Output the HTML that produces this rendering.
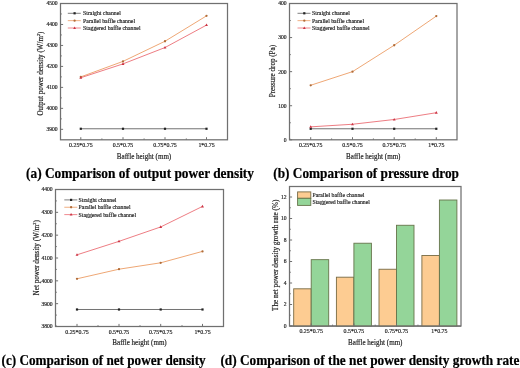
<!DOCTYPE html>
<html><head><meta charset="utf-8"><title>Figure</title>
<style>html,body{margin:0;padding:0;background:#fff}svg{display:block}text{font-family:'Liberation Serif', serif}</style></head><body>
<svg width="520" height="368" viewBox="0 0 520 368">
<rect width="520" height="368" fill="#fff"/>
<rect x="60.5" y="3.5" width="167.0" height="136.3" fill="none" stroke="#707070" stroke-width="1.25"/>
<line x1="60.50" y1="129.32" x2="63.10" y2="129.32" stroke="#707070" stroke-width="1" />
<text x="57.60" y="131.22" font-size="5.6" text-anchor="end" font-weight="normal" fill="#222" stroke="#222" stroke-width="0.17" >3900</text>
<line x1="60.50" y1="118.83" x2="61.90" y2="118.83" stroke="#707070" stroke-width="0.9" />
<line x1="60.50" y1="108.35" x2="63.10" y2="108.35" stroke="#707070" stroke-width="1" />
<text x="57.60" y="110.25" font-size="5.6" text-anchor="end" font-weight="normal" fill="#222" stroke="#222" stroke-width="0.17" >4000</text>
<line x1="60.50" y1="97.86" x2="61.90" y2="97.86" stroke="#707070" stroke-width="0.9" />
<line x1="60.50" y1="87.38" x2="63.10" y2="87.38" stroke="#707070" stroke-width="1" />
<text x="57.60" y="89.28" font-size="5.6" text-anchor="end" font-weight="normal" fill="#222" stroke="#222" stroke-width="0.17" >4100</text>
<line x1="60.50" y1="76.89" x2="61.90" y2="76.89" stroke="#707070" stroke-width="0.9" />
<line x1="60.50" y1="66.41" x2="63.10" y2="66.41" stroke="#707070" stroke-width="1" />
<text x="57.60" y="68.31" font-size="5.6" text-anchor="end" font-weight="normal" fill="#222" stroke="#222" stroke-width="0.17" >4200</text>
<line x1="60.50" y1="55.92" x2="61.90" y2="55.92" stroke="#707070" stroke-width="0.9" />
<line x1="60.50" y1="45.44" x2="63.10" y2="45.44" stroke="#707070" stroke-width="1" />
<text x="57.60" y="47.34" font-size="5.6" text-anchor="end" font-weight="normal" fill="#222" stroke="#222" stroke-width="0.17" >4300</text>
<line x1="60.50" y1="34.95" x2="61.90" y2="34.95" stroke="#707070" stroke-width="0.9" />
<line x1="60.50" y1="24.47" x2="63.10" y2="24.47" stroke="#707070" stroke-width="1" />
<text x="57.60" y="26.37" font-size="5.6" text-anchor="end" font-weight="normal" fill="#222" stroke="#222" stroke-width="0.17" >4400</text>
<line x1="60.50" y1="13.98" x2="61.90" y2="13.98" stroke="#707070" stroke-width="0.9" />
<line x1="60.50" y1="3.50" x2="63.10" y2="3.50" stroke="#707070" stroke-width="1" />
<text x="57.60" y="5.40" font-size="5.6" text-anchor="end" font-weight="normal" fill="#222" stroke="#222" stroke-width="0.17" >4500</text>
<line x1="80.80" y1="139.80" x2="80.80" y2="137.20" stroke="#707070" stroke-width="1" />
<text x="80.80" y="147.20" font-size="5.9" text-anchor="middle" font-weight="normal" fill="#222" stroke="#222" stroke-width="0.17" >0.25*0.75</text>
<line x1="123.00" y1="139.80" x2="123.00" y2="137.20" stroke="#707070" stroke-width="1" />
<text x="123.00" y="147.20" font-size="5.9" text-anchor="middle" font-weight="normal" fill="#222" stroke="#222" stroke-width="0.17" >0.5*0.75</text>
<line x1="165.00" y1="139.80" x2="165.00" y2="137.20" stroke="#707070" stroke-width="1" />
<text x="165.00" y="147.20" font-size="5.9" text-anchor="middle" font-weight="normal" fill="#222" stroke="#222" stroke-width="0.17" >0.75*0.75</text>
<line x1="206.50" y1="139.80" x2="206.50" y2="137.20" stroke="#707070" stroke-width="1" />
<text x="206.50" y="147.20" font-size="5.9" text-anchor="middle" font-weight="normal" fill="#222" stroke="#222" stroke-width="0.17" >1*0.75</text>
<line x1="101.90" y1="139.80" x2="101.90" y2="138.40" stroke="#707070" stroke-width="0.9" />
<line x1="144.10" y1="139.80" x2="144.10" y2="138.40" stroke="#707070" stroke-width="0.9" />
<line x1="186.30" y1="139.80" x2="186.30" y2="138.40" stroke="#707070" stroke-width="0.9" />
<text transform="translate(144.00,158.80) scale(0.944,1)" font-size="7.5" text-anchor="middle" font-weight="normal" fill="#222" stroke="#222" stroke-width="0.17" >Baffle height (mm)</text>
<text transform="translate(42.80,73.60) rotate(-90) scale(0.944,1)" font-size="7.5" text-anchor="middle" fill="#222" stroke="#222" stroke-width="0.17">Output power density (W/m<tspan dy="-2.5" font-size="4.5">2</tspan><tspan dy="2.5">)</tspan></text>
<polyline points="80.80,128.77 123.00,128.77 165.00,128.77 206.50,128.77" fill="none" stroke="#3a3a3a" stroke-width="0.72"/>
<rect x="79.70" y="127.67" width="2.2" height="2.2" fill="#222"/>
<rect x="121.90" y="127.67" width="2.2" height="2.2" fill="#222"/>
<rect x="163.90" y="127.67" width="2.2" height="2.2" fill="#222"/>
<rect x="205.40" y="127.67" width="2.2" height="2.2" fill="#222"/>
<polyline points="80.80,76.89 123.00,61.38 165.00,41.24 206.50,15.87" fill="none" stroke="#e8843f" stroke-width="0.72"/>
<circle cx="80.80" cy="76.89" r="1.15" fill="#b06c38"/>
<circle cx="123.00" cy="61.38" r="1.15" fill="#b06c38"/>
<circle cx="165.00" cy="41.24" r="1.15" fill="#b06c38"/>
<circle cx="206.50" cy="15.87" r="1.15" fill="#b06c38"/>
<polyline points="80.80,77.73 123.00,63.89 165.00,47.54 206.50,25.10" fill="none" stroke="#e64a52" stroke-width="0.72"/>
<polygon points="80.80,76.13 79.35,78.73 82.25,78.73" fill="#cc3444"/>
<polygon points="123.00,62.29 121.55,64.89 124.45,64.89" fill="#cc3444"/>
<polygon points="165.00,45.94 163.55,48.54 166.45,48.54" fill="#cc3444"/>
<polygon points="206.50,23.50 205.05,26.10 207.95,26.10" fill="#cc3444"/>
<line x1="67.80" y1="13.30" x2="80.80" y2="13.30" stroke="#3a3a3a" stroke-width="0.65" />
<rect x="73.50" y="12.20" width="2.2" height="2.2" fill="#222"/>
<text transform="translate(83.10,15.30) scale(0.951,1)" font-size="6.1" text-anchor="start" font-weight="normal" fill="#222" stroke="#222" stroke-width="0.17" >Straight channel</text>
<line x1="67.80" y1="20.65" x2="80.80" y2="20.65" stroke="#e8843f" stroke-width="0.65" />
<circle cx="74.60" cy="20.65" r="1.15" fill="#b06c38"/>
<text transform="translate(83.10,22.65) scale(0.951,1)" font-size="6.1" text-anchor="start" font-weight="normal" fill="#222" stroke="#222" stroke-width="0.17" >Parallel baffle channel</text>
<line x1="67.80" y1="28.00" x2="80.80" y2="28.00" stroke="#e64a52" stroke-width="0.65" />
<polygon points="74.60,26.40 73.15,29.00 76.05,29.00" fill="#cc3444"/>
<text transform="translate(83.10,30.00) scale(0.951,1)" font-size="6.1" text-anchor="start" font-weight="normal" fill="#222" stroke="#222" stroke-width="0.17" >Staggered baffle channel</text>
<rect x="289.5" y="3.5" width="167.5" height="136.3" fill="none" stroke="#707070" stroke-width="1.25"/>
<line x1="289.50" y1="139.80" x2="292.10" y2="139.80" stroke="#707070" stroke-width="1" />
<text x="286.60" y="141.70" font-size="5.6" text-anchor="end" font-weight="normal" fill="#222" stroke="#222" stroke-width="0.17" >0</text>
<line x1="289.50" y1="122.76" x2="290.90" y2="122.76" stroke="#707070" stroke-width="0.9" />
<line x1="289.50" y1="105.73" x2="292.10" y2="105.73" stroke="#707070" stroke-width="1" />
<text x="286.60" y="107.63" font-size="5.6" text-anchor="end" font-weight="normal" fill="#222" stroke="#222" stroke-width="0.17" >100</text>
<line x1="289.50" y1="88.69" x2="290.90" y2="88.69" stroke="#707070" stroke-width="0.9" />
<line x1="289.50" y1="71.65" x2="292.10" y2="71.65" stroke="#707070" stroke-width="1" />
<text x="286.60" y="73.55" font-size="5.6" text-anchor="end" font-weight="normal" fill="#222" stroke="#222" stroke-width="0.17" >200</text>
<line x1="289.50" y1="54.61" x2="290.90" y2="54.61" stroke="#707070" stroke-width="0.9" />
<line x1="289.50" y1="37.57" x2="292.10" y2="37.57" stroke="#707070" stroke-width="1" />
<text x="286.60" y="39.47" font-size="5.6" text-anchor="end" font-weight="normal" fill="#222" stroke="#222" stroke-width="0.17" >300</text>
<line x1="289.50" y1="20.54" x2="290.90" y2="20.54" stroke="#707070" stroke-width="0.9" />
<line x1="289.50" y1="3.50" x2="292.10" y2="3.50" stroke="#707070" stroke-width="1" />
<text x="286.60" y="5.40" font-size="5.6" text-anchor="end" font-weight="normal" fill="#222" stroke="#222" stroke-width="0.17" >400</text>
<line x1="310.70" y1="139.80" x2="310.70" y2="137.20" stroke="#707070" stroke-width="1" />
<text x="310.70" y="147.20" font-size="5.9" text-anchor="middle" font-weight="normal" fill="#222" stroke="#222" stroke-width="0.17" >0.25*0.75</text>
<line x1="352.50" y1="139.80" x2="352.50" y2="137.20" stroke="#707070" stroke-width="1" />
<text x="352.50" y="147.20" font-size="5.9" text-anchor="middle" font-weight="normal" fill="#222" stroke="#222" stroke-width="0.17" >0.5*0.75</text>
<line x1="394.20" y1="139.80" x2="394.20" y2="137.20" stroke="#707070" stroke-width="1" />
<text x="394.20" y="147.20" font-size="5.9" text-anchor="middle" font-weight="normal" fill="#222" stroke="#222" stroke-width="0.17" >0.75*0.75</text>
<line x1="436.30" y1="139.80" x2="436.30" y2="137.20" stroke="#707070" stroke-width="1" />
<text x="436.30" y="147.20" font-size="5.9" text-anchor="middle" font-weight="normal" fill="#222" stroke="#222" stroke-width="0.17" >1*0.75</text>
<line x1="289.80" y1="139.80" x2="289.80" y2="138.40" stroke="#707070" stroke-width="0.9" />
<line x1="331.60" y1="139.80" x2="331.60" y2="138.40" stroke="#707070" stroke-width="0.9" />
<line x1="373.40" y1="139.80" x2="373.40" y2="138.40" stroke="#707070" stroke-width="0.9" />
<line x1="415.20" y1="139.80" x2="415.20" y2="138.40" stroke="#707070" stroke-width="0.9" />
<text transform="translate(373.25,158.80) scale(0.944,1)" font-size="7.5" text-anchor="middle" font-weight="normal" fill="#222" stroke="#222" stroke-width="0.17" >Baffle height (mm)</text>
<text transform="translate(275.30,71.10) rotate(-90) scale(0.944,1)" font-size="7.5" text-anchor="middle" fill="#222" stroke="#222" stroke-width="0.17">Pressure drop (Pa)</text>
<polyline points="310.70,128.78 352.50,128.78 394.20,128.78 436.30,128.78" fill="none" stroke="#3a3a3a" stroke-width="0.72"/>
<rect x="309.60" y="127.68" width="2.2" height="2.2" fill="#222"/>
<rect x="351.40" y="127.68" width="2.2" height="2.2" fill="#222"/>
<rect x="393.10" y="127.68" width="2.2" height="2.2" fill="#222"/>
<rect x="435.20" y="127.68" width="2.2" height="2.2" fill="#222"/>
<polyline points="310.70,85.28 352.50,71.65 394.20,45.24 436.30,16.11" fill="none" stroke="#e8843f" stroke-width="0.72"/>
<circle cx="310.70" cy="85.28" r="1.15" fill="#b06c38"/>
<circle cx="352.50" cy="71.65" r="1.15" fill="#b06c38"/>
<circle cx="394.20" cy="45.24" r="1.15" fill="#b06c38"/>
<circle cx="436.30" cy="16.11" r="1.15" fill="#b06c38"/>
<polyline points="310.70,126.85 352.50,124.26 394.20,119.49 436.30,112.71" fill="none" stroke="#e64a52" stroke-width="0.72"/>
<polygon points="310.70,125.25 309.25,127.85 312.15,127.85" fill="#cc3444"/>
<polygon points="352.50,122.66 351.05,125.26 353.95,125.26" fill="#cc3444"/>
<polygon points="394.20,117.89 392.75,120.49 395.65,120.49" fill="#cc3444"/>
<polygon points="436.30,111.11 434.85,113.71 437.75,113.71" fill="#cc3444"/>
<line x1="297.50" y1="13.30" x2="310.50" y2="13.30" stroke="#3a3a3a" stroke-width="0.65" />
<rect x="303.20" y="12.20" width="2.2" height="2.2" fill="#222"/>
<text transform="translate(312.10,15.30) scale(0.951,1)" font-size="6.1" text-anchor="start" font-weight="normal" fill="#222" stroke="#222" stroke-width="0.17" >Straight channel</text>
<line x1="297.50" y1="20.65" x2="310.50" y2="20.65" stroke="#e8843f" stroke-width="0.65" />
<circle cx="304.30" cy="20.65" r="1.15" fill="#b06c38"/>
<text transform="translate(312.10,22.65) scale(0.951,1)" font-size="6.1" text-anchor="start" font-weight="normal" fill="#222" stroke="#222" stroke-width="0.17" >Parallel baffle channel</text>
<line x1="297.50" y1="28.00" x2="310.50" y2="28.00" stroke="#e64a52" stroke-width="0.65" />
<polygon points="304.30,26.40 302.85,29.00 305.75,29.00" fill="#cc3444"/>
<text transform="translate(312.10,30.00) scale(0.951,1)" font-size="6.1" text-anchor="start" font-weight="normal" fill="#222" stroke="#222" stroke-width="0.17" >Staggered baffle channel</text>
<rect x="55.5" y="189.5" width="168.0" height="137.0" fill="none" stroke="#707070" stroke-width="1.25"/>
<line x1="55.50" y1="326.50" x2="58.10" y2="326.50" stroke="#707070" stroke-width="1" />
<text x="52.60" y="328.40" font-size="5.6" text-anchor="end" font-weight="normal" fill="#222" stroke="#222" stroke-width="0.17" >3800</text>
<line x1="55.50" y1="315.08" x2="56.90" y2="315.08" stroke="#707070" stroke-width="0.9" />
<line x1="55.50" y1="303.67" x2="58.10" y2="303.67" stroke="#707070" stroke-width="1" />
<text x="52.60" y="305.57" font-size="5.6" text-anchor="end" font-weight="normal" fill="#222" stroke="#222" stroke-width="0.17" >3900</text>
<line x1="55.50" y1="292.25" x2="56.90" y2="292.25" stroke="#707070" stroke-width="0.9" />
<line x1="55.50" y1="280.83" x2="58.10" y2="280.83" stroke="#707070" stroke-width="1" />
<text x="52.60" y="282.73" font-size="5.6" text-anchor="end" font-weight="normal" fill="#222" stroke="#222" stroke-width="0.17" >4000</text>
<line x1="55.50" y1="269.42" x2="56.90" y2="269.42" stroke="#707070" stroke-width="0.9" />
<line x1="55.50" y1="258.00" x2="58.10" y2="258.00" stroke="#707070" stroke-width="1" />
<text x="52.60" y="259.90" font-size="5.6" text-anchor="end" font-weight="normal" fill="#222" stroke="#222" stroke-width="0.17" >4100</text>
<line x1="55.50" y1="246.58" x2="56.90" y2="246.58" stroke="#707070" stroke-width="0.9" />
<line x1="55.50" y1="235.17" x2="58.10" y2="235.17" stroke="#707070" stroke-width="1" />
<text x="52.60" y="237.07" font-size="5.6" text-anchor="end" font-weight="normal" fill="#222" stroke="#222" stroke-width="0.17" >4200</text>
<line x1="55.50" y1="223.75" x2="56.90" y2="223.75" stroke="#707070" stroke-width="0.9" />
<line x1="55.50" y1="212.33" x2="58.10" y2="212.33" stroke="#707070" stroke-width="1" />
<text x="52.60" y="214.23" font-size="5.6" text-anchor="end" font-weight="normal" fill="#222" stroke="#222" stroke-width="0.17" >4300</text>
<line x1="55.50" y1="200.92" x2="56.90" y2="200.92" stroke="#707070" stroke-width="0.9" />
<line x1="55.50" y1="189.50" x2="58.10" y2="189.50" stroke="#707070" stroke-width="1" />
<text x="52.60" y="191.40" font-size="5.6" text-anchor="end" font-weight="normal" fill="#222" stroke="#222" stroke-width="0.17" >4400</text>
<line x1="77.00" y1="326.50" x2="77.00" y2="323.90" stroke="#707070" stroke-width="1" />
<text x="77.00" y="333.50" font-size="5.9" text-anchor="middle" font-weight="normal" fill="#222" stroke="#222" stroke-width="0.17" >0.25*0.75</text>
<line x1="119.00" y1="326.50" x2="119.00" y2="323.90" stroke="#707070" stroke-width="1" />
<text x="119.00" y="333.50" font-size="5.9" text-anchor="middle" font-weight="normal" fill="#222" stroke="#222" stroke-width="0.17" >0.5*0.75</text>
<line x1="160.70" y1="326.50" x2="160.70" y2="323.90" stroke="#707070" stroke-width="1" />
<text x="160.70" y="333.50" font-size="5.9" text-anchor="middle" font-weight="normal" fill="#222" stroke="#222" stroke-width="0.17" >0.75*0.75</text>
<line x1="202.50" y1="326.50" x2="202.50" y2="323.90" stroke="#707070" stroke-width="1" />
<text x="202.50" y="333.50" font-size="5.9" text-anchor="middle" font-weight="normal" fill="#222" stroke="#222" stroke-width="0.17" >1*0.75</text>
<line x1="56.00" y1="326.50" x2="56.00" y2="325.10" stroke="#707070" stroke-width="0.9" />
<line x1="98.00" y1="326.50" x2="98.00" y2="325.10" stroke="#707070" stroke-width="0.9" />
<line x1="140.00" y1="326.50" x2="140.00" y2="325.10" stroke="#707070" stroke-width="0.9" />
<line x1="182.00" y1="326.50" x2="182.00" y2="325.10" stroke="#707070" stroke-width="0.9" />
<text transform="translate(139.50,344.50) scale(0.944,1)" font-size="7.5" text-anchor="middle" font-weight="normal" fill="#222" stroke="#222" stroke-width="0.17" >Baffle height (mm)</text>
<text transform="translate(38.80,257.80) rotate(-90) scale(0.935,1)" font-size="7.65" text-anchor="middle" fill="#222" stroke="#222" stroke-width="0.17">Net power density (W/m<tspan dy="-2.5" font-size="4.5">2</tspan><tspan dy="2.5">)</tspan></text>
<polyline points="77.00,309.49 119.00,309.49 160.70,309.49 202.50,309.49" fill="none" stroke="#3a3a3a" stroke-width="0.72"/>
<rect x="75.90" y="308.39" width="2.2" height="2.2" fill="#222"/>
<rect x="117.90" y="308.39" width="2.2" height="2.2" fill="#222"/>
<rect x="159.60" y="308.39" width="2.2" height="2.2" fill="#222"/>
<rect x="201.40" y="308.39" width="2.2" height="2.2" fill="#222"/>
<polyline points="77.00,278.78 119.00,269.19 160.70,262.80 202.50,251.38" fill="none" stroke="#e8843f" stroke-width="0.72"/>
<circle cx="77.00" cy="278.78" r="1.15" fill="#b06c38"/>
<circle cx="119.00" cy="269.19" r="1.15" fill="#b06c38"/>
<circle cx="160.70" cy="262.80" r="1.15" fill="#b06c38"/>
<circle cx="202.50" cy="251.38" r="1.15" fill="#b06c38"/>
<polyline points="77.00,254.80 119.00,241.33 160.70,226.95 202.50,206.40" fill="none" stroke="#e64a52" stroke-width="0.72"/>
<polygon points="77.00,253.20 75.55,255.80 78.45,255.80" fill="#cc3444"/>
<polygon points="119.00,239.73 117.55,242.33 120.45,242.33" fill="#cc3444"/>
<polygon points="160.70,225.35 159.25,227.95 162.15,227.95" fill="#cc3444"/>
<polygon points="202.50,204.80 201.05,207.40 203.95,207.40" fill="#cc3444"/>
<line x1="64.30" y1="199.90" x2="77.30" y2="199.90" stroke="#3a3a3a" stroke-width="0.65" />
<rect x="70.00" y="198.80" width="2.2" height="2.2" fill="#222"/>
<text transform="translate(78.60,201.90) scale(0.951,1)" font-size="6.1" text-anchor="start" font-weight="normal" fill="#222" stroke="#222" stroke-width="0.17" >Straight channel</text>
<line x1="64.30" y1="207.25" x2="77.30" y2="207.25" stroke="#e8843f" stroke-width="0.65" />
<circle cx="71.10" cy="207.25" r="1.15" fill="#b06c38"/>
<text transform="translate(78.60,209.25) scale(0.951,1)" font-size="6.1" text-anchor="start" font-weight="normal" fill="#222" stroke="#222" stroke-width="0.17" >Parallel baffle channel</text>
<line x1="64.30" y1="214.60" x2="77.30" y2="214.60" stroke="#e64a52" stroke-width="0.65" />
<polygon points="71.10,213.00 69.65,215.60 72.55,215.60" fill="#cc3444"/>
<text transform="translate(78.60,216.60) scale(0.951,1)" font-size="6.1" text-anchor="start" font-weight="normal" fill="#222" stroke="#222" stroke-width="0.17" >Staggered baffle channel</text>
<rect x="289.5" y="186.5" width="171.5" height="139.5" fill="none" stroke="#707070" stroke-width="1.25"/>
<line x1="289.50" y1="326.00" x2="292.10" y2="326.00" stroke="#707070" stroke-width="1" />
<text x="286.60" y="327.90" font-size="5.6" text-anchor="end" font-weight="normal" fill="#222" stroke="#222" stroke-width="0.17" >0</text>
<line x1="289.50" y1="315.25" x2="290.90" y2="315.25" stroke="#707070" stroke-width="0.9" />
<line x1="289.50" y1="304.50" x2="292.10" y2="304.50" stroke="#707070" stroke-width="1" />
<text x="286.60" y="306.40" font-size="5.6" text-anchor="end" font-weight="normal" fill="#222" stroke="#222" stroke-width="0.17" >2</text>
<line x1="289.50" y1="293.75" x2="290.90" y2="293.75" stroke="#707070" stroke-width="0.9" />
<line x1="289.50" y1="283.00" x2="292.10" y2="283.00" stroke="#707070" stroke-width="1" />
<text x="286.60" y="284.90" font-size="5.6" text-anchor="end" font-weight="normal" fill="#222" stroke="#222" stroke-width="0.17" >4</text>
<line x1="289.50" y1="272.25" x2="290.90" y2="272.25" stroke="#707070" stroke-width="0.9" />
<line x1="289.50" y1="261.50" x2="292.10" y2="261.50" stroke="#707070" stroke-width="1" />
<text x="286.60" y="263.40" font-size="5.6" text-anchor="end" font-weight="normal" fill="#222" stroke="#222" stroke-width="0.17" >6</text>
<line x1="289.50" y1="250.75" x2="290.90" y2="250.75" stroke="#707070" stroke-width="0.9" />
<line x1="289.50" y1="240.00" x2="292.10" y2="240.00" stroke="#707070" stroke-width="1" />
<text x="286.60" y="241.90" font-size="5.6" text-anchor="end" font-weight="normal" fill="#222" stroke="#222" stroke-width="0.17" >8</text>
<line x1="289.50" y1="229.25" x2="290.90" y2="229.25" stroke="#707070" stroke-width="0.9" />
<line x1="289.50" y1="218.50" x2="292.10" y2="218.50" stroke="#707070" stroke-width="1" />
<text x="286.60" y="220.40" font-size="5.6" text-anchor="end" font-weight="normal" fill="#222" stroke="#222" stroke-width="0.17" >10</text>
<line x1="289.50" y1="207.75" x2="290.90" y2="207.75" stroke="#707070" stroke-width="0.9" />
<line x1="289.50" y1="197.00" x2="292.10" y2="197.00" stroke="#707070" stroke-width="1" />
<text x="286.60" y="198.90" font-size="5.6" text-anchor="end" font-weight="normal" fill="#222" stroke="#222" stroke-width="0.17" >12</text>
<rect x="293.70" y="288.81" width="17.5" height="37.19" fill="#fdcc92" stroke="#786a44" stroke-width="0.9"/>
<rect x="311.20" y="259.67" width="17.5" height="66.33" fill="#94d599" stroke="#66744a" stroke-width="0.9"/>
<text x="311.20" y="333.30" font-size="5.9" text-anchor="middle" font-weight="normal" fill="#222" stroke="#222" stroke-width="0.17" >0.25*0.75</text>
<line x1="311.20" y1="326.00" x2="311.20" y2="323.40" stroke="#707070" stroke-width="1" />
<rect x="336.40" y="277.19" width="17.5" height="48.81" fill="#fdcc92" stroke="#786a44" stroke-width="0.9"/>
<rect x="353.90" y="243.22" width="17.5" height="82.78" fill="#94d599" stroke="#66744a" stroke-width="0.9"/>
<text x="353.90" y="333.30" font-size="5.9" text-anchor="middle" font-weight="normal" fill="#222" stroke="#222" stroke-width="0.17" >0.5*0.75</text>
<line x1="353.90" y1="326.00" x2="353.90" y2="323.40" stroke="#707070" stroke-width="1" />
<rect x="379.00" y="269.24" width="17.5" height="56.76" fill="#fdcc92" stroke="#786a44" stroke-width="0.9"/>
<rect x="396.50" y="225.27" width="17.5" height="100.73" fill="#94d599" stroke="#66744a" stroke-width="0.9"/>
<text x="396.50" y="333.30" font-size="5.9" text-anchor="middle" font-weight="normal" fill="#222" stroke="#222" stroke-width="0.17" >0.75*0.75</text>
<line x1="396.50" y1="326.00" x2="396.50" y2="323.40" stroke="#707070" stroke-width="1" />
<rect x="421.90" y="255.48" width="17.5" height="70.52" fill="#fdcc92" stroke="#786a44" stroke-width="0.9"/>
<rect x="439.40" y="200.01" width="17.5" height="125.99" fill="#94d599" stroke="#66744a" stroke-width="0.9"/>
<text x="439.40" y="333.30" font-size="5.9" text-anchor="middle" font-weight="normal" fill="#222" stroke="#222" stroke-width="0.17" >1*0.75</text>
<line x1="439.40" y1="326.00" x2="439.40" y2="323.40" stroke="#707070" stroke-width="1" />
<line x1="332.55" y1="326.00" x2="332.55" y2="324.60" stroke="#707070" stroke-width="0.9" />
<line x1="375.20" y1="326.00" x2="375.20" y2="324.60" stroke="#707070" stroke-width="0.9" />
<line x1="417.95" y1="326.00" x2="417.95" y2="324.60" stroke="#707070" stroke-width="0.9" />
<line x1="289.50" y1="326.00" x2="461.00" y2="326.00" stroke="#707070" stroke-width="1.25" />
<text transform="translate(375.25,344.60) scale(0.944,1)" font-size="7.5" text-anchor="middle" font-weight="normal" fill="#222" stroke="#222" stroke-width="0.17" >Baffle height (mm)</text>
<text transform="translate(278.30,255.30) rotate(-90) scale(0.935,1)" font-size="7.7" text-anchor="middle" fill="#222" stroke="#222" stroke-width="0.17">The net power density growth rate (%)</text>
<rect x="297.6" y="191.9" width="13.2" height="6.4" fill="#fdcc92" stroke="#786a44" stroke-width="0.9"/>
<rect x="297.6" y="198.3" width="13.2" height="7.1" fill="#94d599" stroke="#66744a" stroke-width="0.9"/>
<text transform="translate(312.50,196.70) scale(0.951,1)" font-size="6.1" text-anchor="start" font-weight="normal" fill="#222" stroke="#222" stroke-width="0.17" >Parallel baffle channel</text>
<text transform="translate(312.50,204.00) scale(0.951,1)" font-size="6.1" text-anchor="start" font-weight="normal" fill="#222" stroke="#222" stroke-width="0.17" >Staggered baffle channel</text>
<text x="26.00" y="178.00" font-size="14" text-anchor="start" font-weight="bold" fill="#000" stroke="#000" stroke-width="0.2" textLength="228" lengthAdjust="spacingAndGlyphs">(a) Comparison of output power density</text>
<text x="273.30" y="178.00" font-size="14" text-anchor="start" font-weight="bold" fill="#000" stroke="#000" stroke-width="0.2" textLength="185.7" lengthAdjust="spacingAndGlyphs">(b) Comparison of pressure drop</text>
<text x="1.50" y="364.60" font-size="14" text-anchor="start" font-weight="bold" fill="#000" stroke="#000" stroke-width="0.2" textLength="204.2" lengthAdjust="spacingAndGlyphs">(c) Comparison of net power density</text>
<text x="220.40" y="364.60" font-size="14" text-anchor="start" font-weight="bold" fill="#000" stroke="#000" stroke-width="0.2" textLength="299" lengthAdjust="spacingAndGlyphs">(d) Comparison of the net power density growth rate</text>
</svg></body></html>
